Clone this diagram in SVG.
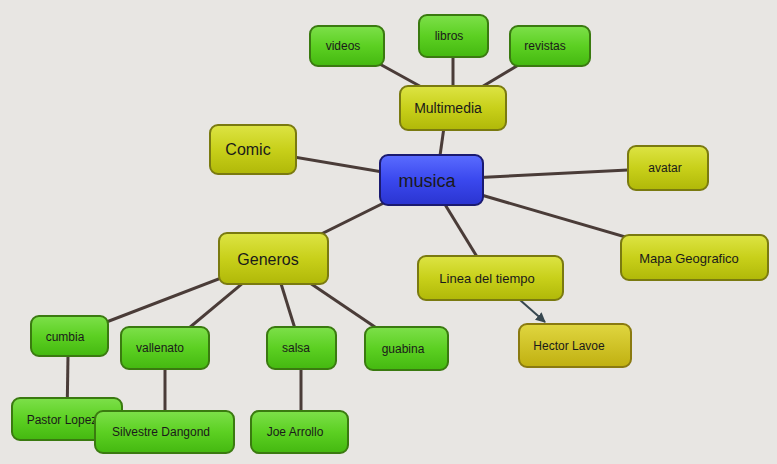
<svg xmlns="http://www.w3.org/2000/svg" width="777" height="464" viewBox="0 0 777 464">
<defs>
<linearGradient id="gG" x1="0" y1="0" x2="0" y2="1"><stop offset="0" stop-color="#7de04a"/><stop offset="0.5" stop-color="#5cd022"/><stop offset="1" stop-color="#44b810"/></linearGradient>
<linearGradient id="gY" x1="0" y1="0" x2="0" y2="1"><stop offset="0" stop-color="#dde444"/><stop offset="0.5" stop-color="#c8d01a"/><stop offset="1" stop-color="#b0b808"/></linearGradient>
<linearGradient id="gY2" x1="0" y1="0" x2="0" y2="1"><stop offset="0" stop-color="#e0d640"/><stop offset="1" stop-color="#c0b010"/></linearGradient>
<linearGradient id="gB" x1="0" y1="0" x2="0" y2="1"><stop offset="0" stop-color="#5a6cff"/><stop offset="0.5" stop-color="#3a48ee"/><stop offset="1" stop-color="#2a34d0"/></linearGradient>
<marker id="arr" viewBox="0 0 10 10" refX="9" refY="5" markerWidth="5" markerHeight="5" orient="auto"><path d="M0,0 L10,5 L0,10 z" fill="#37474f"/></marker>
</defs>
<style>
.g{fill:url(#gG);stroke:#3a7a10;stroke-width:2}
.y{fill:url(#gY);stroke:#7a7a10;stroke-width:2}
.y2{fill:url(#gY2);stroke:#8a7a10;stroke-width:2}
.b{fill:url(#gB);stroke:#1a1a70;stroke-width:2}
text{font-family:"Liberation Sans",Arial,sans-serif;fill:#1a1a1a;text-anchor:middle;dominant-baseline:central}
.s{font-size:12px}.m{font-size:14px}.l{font-size:18px}
.c line{stroke:#4a3c38;stroke-width:3}
</style>
<rect width="777" height="464" fill="#e8e6e3"/>
<g class="c">
<line x1="347" y1="46" x2="445" y2="100"/>
<line x1="453" y1="36" x2="453" y2="100"/>
<line x1="550" y1="46" x2="460" y2="100"/>
<line x1="445" y1="120" x2="438" y2="170"/>
<line x1="253" y1="150" x2="430" y2="180"/>
<line x1="430" y1="180" x2="668" y2="168"/>
<line x1="430" y1="180" x2="694" y2="257"/>
<line x1="430" y1="180" x2="490" y2="278"/>
<line x1="430" y1="180" x2="273" y2="258"/>
<line x1="273" y1="258" x2="70" y2="336"/>
<line x1="273" y1="258" x2="165" y2="348"/>
<line x1="273" y1="258" x2="301" y2="348"/>
<line x1="273" y1="258" x2="406" y2="348"/>
<line x1="68" y1="356" x2="67" y2="419"/>
<line x1="165" y1="369" x2="165" y2="432"/>
<line x1="301" y1="369" x2="301" y2="432"/>
<line x1="520" y1="300" x2="545" y2="322" style="stroke:#37474f;stroke-width:2" marker-end="url(#arr)"/>
</g>
<g id="videos"><rect class="g" x="310" y="26" width="74" height="40" rx="8"/><text class="s" x="343" y="46">videos</text></g>
<g id="libros"><rect class="g" x="419" y="15" width="69" height="42" rx="8"/><text class="s" x="449" y="36">libros</text></g>
<g id="revistas"><rect class="g" x="510" y="26" width="80" height="40" rx="8"/><text class="s" x="545" y="46">revistas</text></g>
<g id="multimedia"><rect class="y" x="400" y="86" width="106" height="44" rx="8"/><text class="m" x="448" y="108">Multimedia</text></g>
<g id="comic"><rect class="y" x="210" y="125" width="86" height="49" rx="8"/><text class="m" x="248" y="149" style="font-size:16px">Comic</text></g>
<g id="musica"><rect class="b" x="380" y="155" width="103" height="50" rx="8"/><text class="l" x="427" y="181">musica</text></g>
<g id="avatar"><rect class="y" x="628" y="146" width="80" height="44" rx="8"/><text class="s" x="665" y="168">avatar</text></g>
<g id="generos"><rect class="y" x="219" y="233" width="109" height="51" rx="8"/><text class="m" x="268" y="259" style="font-size:16px">Generos</text></g>
<g id="linea"><rect class="y" x="418" y="256" width="145" height="44" rx="8"/><text class="m" x="487" y="278" style="font-size:13px">Linea del tiempo</text></g>
<g id="mapa"><rect class="y" x="621" y="235" width="147" height="45" rx="8"/><text class="m" x="689" y="258" style="font-size:13px">Mapa Geografico</text></g>
<g id="hector"><rect class="y2" x="519" y="324" width="112" height="43" rx="8"/><text class="s" x="569" y="346">Hector Lavoe</text></g>
<g id="cumbia"><rect class="g" x="31" y="316" width="77" height="40" rx="8"/><text class="s" x="65" y="337">cumbia</text></g>
<g id="vallenato"><rect class="g" x="121" y="327" width="88" height="42" rx="8"/><text class="s" x="160" y="348">vallenato</text></g>
<g id="salsa"><rect class="g" x="267" y="327" width="69" height="42" rx="8"/><text class="s" x="296" y="348">salsa</text></g>
<g id="guabina"><rect class="g" x="365" y="327" width="83" height="43" rx="8"/><text class="s" x="403" y="349">guabina</text></g>
<g id="pastor"><rect class="g" x="12" y="398" width="110" height="42" rx="8"/><text class="s" x="62" y="420">Pastor Lopez</text></g>
<g id="silvestre"><rect class="g" x="95" y="411" width="139" height="42" rx="8"/><text class="s" x="161" y="432">Silvestre Dangond</text></g>
<g id="joe"><rect class="g" x="251" y="411" width="97" height="42" rx="8"/><text class="s" x="295" y="432">Joe Arrollo</text></g>
</svg>
